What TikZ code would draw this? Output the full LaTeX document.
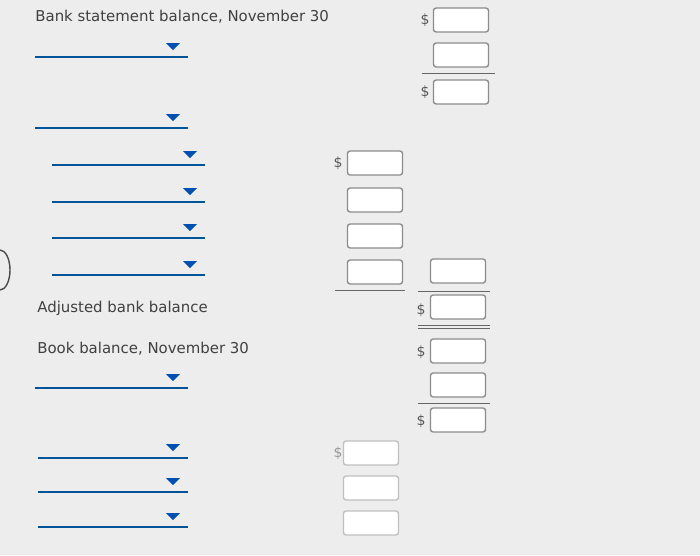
\documentclass[tikz,border=0pt]{standalone}
\usepackage{fontspec}
\setmainfont{DejaVu Sans}
\begin{document}
\begin{tikzpicture}[x=0.02cm,y=-0.02cm,
    lbl/.style={anchor=west,inner sep=0pt,font={\fontsize{8.5}{10}\selectfont},text=black!75},
    ansbox/.style={draw=black!45,rounded corners=1.5pt,line width=0.8pt,fill=white,minimum width=1.1cm,minimum height=0.48cm,inner sep=0pt},
    dol/.style={inner sep=0pt,font={\fontsize{8}{9}\selectfont},text=black!65},
    pick/.style={draw=blue!45!cyan!60!black,line width=0.6pt},
    tri/.style={fill=blue!55!cyan!70!black,draw=none}]
    \fill[black!7] (0,0) rectangle (700,555);
    \useasboundingbox (0,0) rectangle (700,555);

    % labels
    \node[lbl] (bank) at (35,17) {Bank statement balance, November 30};
    \node[lbl] (adj) at (37,308) {Adjusted bank balance};
    \node[lbl] (book) at (37,349) {Book balance, November 30};

    % drop-down lists
    \foreach \xa/\xb/\y in {35/188/57, 35/188/128, 52/205/165, 52/205/202, 52/205/238, 52/205/275, 35/188/388, 38/188/458, 38/188/492, 38/188/527}{
        \draw[pick] (\xa,\y) -- (\xb,\y);
        \fill[tri] (\xb-22,\y-14) -- (\xb-8,\y-14) -- (\xb-15,\y-7) -- cycle;
    }

    % right column, top
    \node[ansbox] (r1) at (461,20) {};
    \node[ansbox] (r2) at (461,55) {};
    \node[ansbox] (r3) at (461,92) {};
    \node[dol] (d1) at (425,20) {\$};
    \node[dol] (d3) at (425,92) {\$};
    \draw[black!60] (422,73) -- (495,73);

    % middle column
    \node[ansbox] (m1) at (375,163) {};
    \node[ansbox] (m2) at (375,200) {};
    \node[ansbox] (m3) at (375,236) {};
    \node[ansbox] (m4) at (375,272) {};
    \node[dol] (dm1) at (338,163) {\$};
    \draw[black!60] (335,290) -- (405,290);

    % right column, middle
    \node[ansbox] (r4) at (458,271) {};
    \draw[black!60] (418,291) -- (490,291);
    \node[ansbox] (r5) at (458,307) {};
    \node[dol] (d5) at (421,310) {\$};
    \draw[black!60] (418,325) -- (490,325);
    \draw[black!60] (418,328) -- (490,328);
    \node[ansbox] (r6) at (458,351) {};
    \node[dol] (d6) at (421,352) {\$};
    \node[ansbox] (r7) at (458,385) {};
    \draw[black!60] (418,403) -- (490,403);
    \node[ansbox] (r8) at (458,420) {};
    \node[dol] (d8) at (421,421) {\$};

    % middle column, bottom
    \node[ansbox,draw=black!25] (m5) at (371,453) {};
    \node[ansbox,draw=black!25] (m6) at (371,488) {};
    \node[ansbox,draw=black!25] (m7) at (371,523) {};
    \node[dol,text=black!40] (dm5) at (338,453) {\$};

    % edge of bracket
    \draw[black!70,line width=0.8pt] (0,250) arc(-90:90:10 and 20);
\end{tikzpicture}
\end{document}
